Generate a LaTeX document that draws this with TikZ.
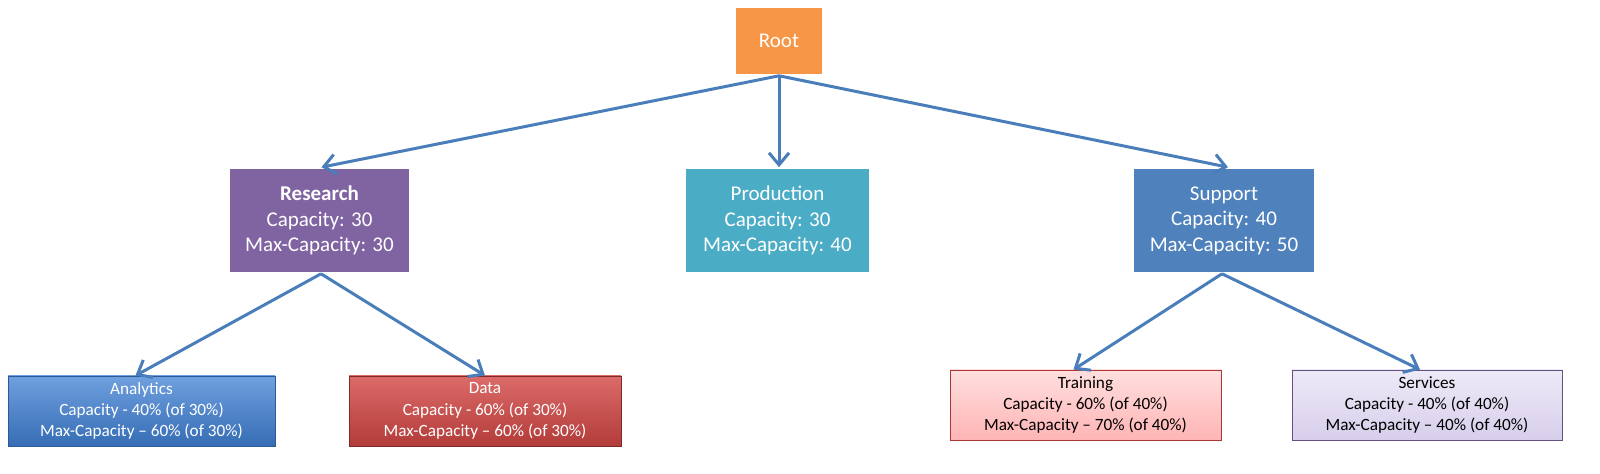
\documentclass[tikz,border=0pt]{standalone}
\usepackage{fontspec}
\setmainfont{Carlito}
\usetikzlibrary{arrows.meta}
\definecolor{arrowblue}{HTML}{4A7EBB}
\definecolor{rootorange}{HTML}{F79646}
\definecolor{respurple}{HTML}{8064A2}
\definecolor{prodteal}{HTML}{4BACC6}
\definecolor{supblue}{HTML}{4F81BD}
\definecolor{anblue}{HTML}{3F80D4}
\definecolor{datared}{HTML}{D24643}
\definecolor{trainpink}{HTML}{FFC9C9}
\definecolor{servlav}{HTML}{DCD4EF}
\begin{document}
\begin{tikzpicture}[x=0.5pt,y=-0.5pt,
  box/.style={draw=white,line width=0.8pt,align=center,inner sep=0pt,text=white,font=\fontsize{10.5}{12.8}\selectfont},
  small/.style={align=center,inner sep=0pt,font=\fontsize{8.6}{10.6}\selectfont},
  arr/.style={draw=arrowblue,line width=1.5pt,-{Straight Barb[length=6pt,width=10pt,line width=1.5pt]}}]
% top level
\node[box,fill=rootorange,minimum width=44pt,minimum height=34pt] (root) at (779,41) {Root};
\node[box,fill=respurple,minimum width=90.5pt,minimum height=52.5pt] (res) at (319.5,220.5) {\textbf{Research}\\Capacity: 30\\Max-Capacity: 30};
\node[box,fill=prodteal,minimum width=92.5pt,minimum height=52.5pt] (prod) at (777.5,220.5) {Production\\Capacity: 30\\Max-Capacity: 40};
\node[box,fill=supblue,minimum width=91pt,minimum height=52.5pt] (sup) at (1224,220.5) {Support\\Capacity: 40\\Max-Capacity: 50};
% second level
\node[small,text=white,draw=anblue!70!black,top color=anblue!75!white,bottom color=anblue!85!black,minimum width=133.5pt,minimum height=35pt] (ana) at (141.5,411) {Analytics\\Capacity - 40\% (of 30\%)\\Max-Capacity -- 60\% (of 30\%)};
\node[small,text=white,draw=datared!60!black,top color=datared!80!white,bottom color=datared!85!black,minimum width=136pt,minimum height=35pt] (data) at (485,411) {Data\\Capacity - 60\% (of 30\%)\\Max-Capacity -- 60\% (of 30\%)};
\node[small,draw=datared!80!black,top color=trainpink!60!white,bottom color=trainpink!90!red,minimum width=135.5pt,minimum height=35pt] (train) at (1085.5,405) {Training\\Capacity - 60\% (of 40\%)\\Max-Capacity -- 70\% (of 40\%)};
\node[small,draw=respurple!80!black,top color=servlav!50!white,bottom color=servlav!95!respurple,minimum width=135pt,minimum height=35pt] (serv) at (1427,405) {Services\\Capacity - 40\% (of 40\%)\\Max-Capacity -- 40\% (of 40\%)};
% connectors
\draw[arr] (root.south) -- ([xshift=1pt]res.north);
\draw[arr] (root.south) -- ([xshift=0.75pt]prod.north);
\draw[arr] (root.south) -- ([xshift=2pt]sup.north);
\draw[arr] ([xshift=0.75pt]res.south) -- ([xshift=-3pt]ana.north);
\draw[arr] ([xshift=0.75pt]res.south) -- (data.north);
\draw[arr] ([xshift=-1pt]sup.south) -- ([xshift=-6pt]train.north);
\draw[arr] ([xshift=-1pt]sup.south) -- ([xshift=-3.5pt]serv.north);
\pgfresetboundingbox
\path (0,0) rectangle (1600,474);
\end{tikzpicture}
\end{document}
